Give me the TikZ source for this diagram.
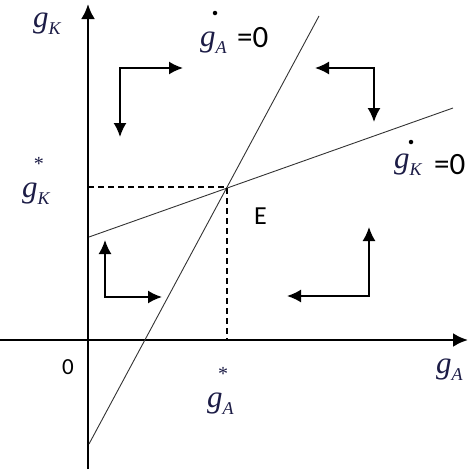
\documentclass[tikz,border=0pt]{standalone}
\usepackage{fontspec}
\setmainfont{Liberation Serif}
\setsansfont{Carlito}
\usetikzlibrary{arrows.meta}
\definecolor{inkblue}{RGB}{28,28,70}
\newcommand{\gvar}[1]{{\color{inkblue}\fontsize{31}{31}\selectfont\textit{g}\raisebox{-7pt}{\fontsize{18}{18}\selectfont\textit{#1}}}}
\tikzset{
    axis/.style={line width=2.6pt,-{Latex[length=15pt,width=14pt]}},
    flow/.style={line width=1.8pt,{Latex[length=14pt,width=13pt]}-{Latex[length=14pt,width=13pt]}},
    locus/.style={line width=0.9pt,draw=black!80},
    guide/.style={line width=1.3pt,dash pattern=on 6pt off 4pt},
    lbl/.style={inner sep=0pt,anchor=base west},
    sanslbl/.style={lbl,font=\sffamily\fontsize{31}{31}\selectfont},
    star/.style={inner sep=0pt,text=inkblue,font=\fontsize{20}{20}\selectfont},
    dotmark/.style={circle,fill=black,inner sep=0pt,minimum size=4.5pt},
}
\begin{document}
\begin{tikzpicture}[x=1pt,y=-1pt]
            \useasboundingbox (0,0) rectangle (474,474);
            \coordinate (O) at (88,340);
            \coordinate (E) at (227,187);
            \coordinate (yb) at (88,469);
            \coordinate (yt) at (88,4);
            \coordinate (xl) at (0,340);
            \coordinate (xr) at (468,340);
            \coordinate (gk) at (88,187);
            \coordinate (ga) at (227,340);
            \draw[axis] (yb) -- (yt);
            \draw[axis] (xl) -- (xr);
            \draw[locus] (89,444) -- (319,16);
            \draw[locus] (89,237) -- (453,108);
            \draw[guide] (gk) -- (E) -- (ga);
            \draw[flow] (183,68) -- (120,68) -- (120,137);
            \draw[flow] (315,68) -- (374,68) -- (374,122);
            \draw[flow] (105,240) -- (105,297) -- (162,297);
            \draw[flow] (369,227) -- (369,296) -- (287,296);
            \node[lbl] (gKaxis) at (33,27) {\gvar{K}};
            \node[lbl] (gAaxis) at (436,373) {\gvar{A}};
            \node[lbl] (gKstar) at (22,197) {\gvar{K}};
            \node[star] (gKstarmark) at (39,164) {*};
            \node[lbl] (gAstar) at (207,407) {\gvar{A}};
            \node[star] (gAstarmark) at (223,374) {*};
            \node[lbl] (gAdot) at (200,46) {\gvar{A}};
            \node[dotmark] (gAdotmark) at (215,13) {};
            \node[sanslbl] (gAzero) at (237,47) {=0};
            \node[lbl] (gKdot) at (394,168) {\gvar{K}};
            \node[dotmark] (gKdotmark) at (411,142) {};
            \node[sanslbl] (gKzero) at (434,174) {=0};
            \node[sanslbl,font=\sffamily\fontsize{26}{26}\selectfont] (Elbl) at (254,224) {E};
            \node[sanslbl,font=\sffamily\fontsize{23}{23}\selectfont] (zero) at (62,374) {0};
\end{tikzpicture}
\end{document}
